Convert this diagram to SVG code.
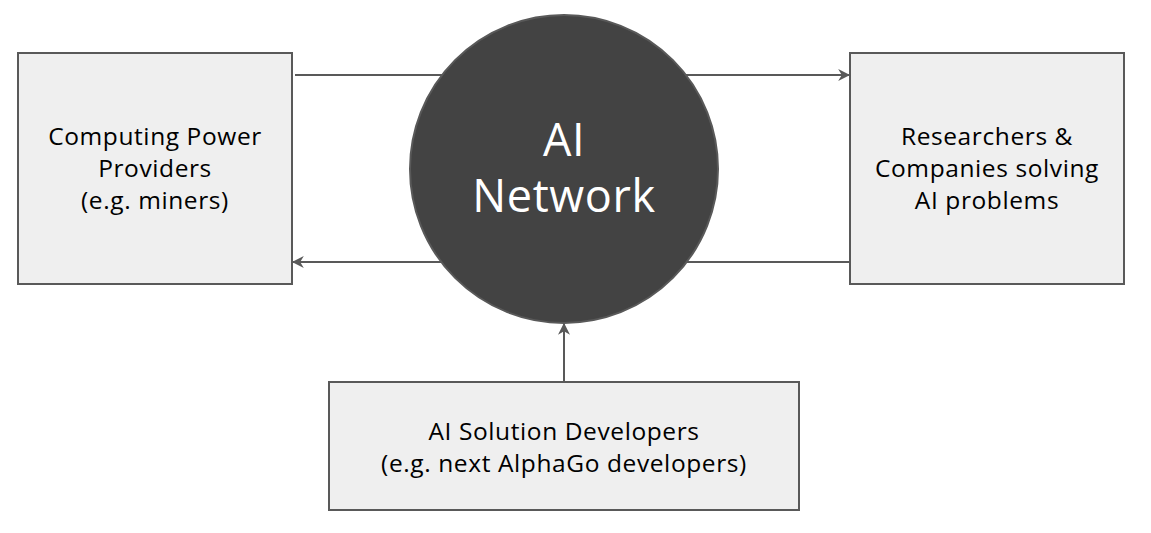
<svg xmlns="http://www.w3.org/2000/svg" width="1151" height="533" viewBox="0 0 1151 533">
<style>
.box{fill:#efefef;stroke:#595959;stroke-width:2}
.lbl{font-family:"Open Sans","Liberation Sans",sans-serif;font-size:24.5px;letter-spacing:0.6px;fill:#000;text-anchor:middle}
.big{font-family:"Open Sans","Liberation Sans",sans-serif;font-size:45px;letter-spacing:0.6px;fill:#fff;text-anchor:middle}
.conn{stroke:#595959;stroke-width:2;fill:none}
</style>
<defs>
<marker id="arr" viewBox="0 0 10 10" refX="9" refY="5" markerWidth="6" markerHeight="6" orient="auto" markerUnits="strokeWidth">
<path d="M0,0 L10,5 L0,10 L3,5 Z" fill="#595959"/>
</marker>
</defs>
<rect width="1151" height="533" fill="#fff"/>
<g id="connectors">
<line class="conn" x1="295" y1="75" x2="849" y2="75" marker-end="url(#arr)"/>
<line class="conn" x1="850" y1="262" x2="293" y2="262" marker-end="url(#arr)"/>
<line class="conn" x1="564" y1="382" x2="564" y2="324" marker-end="url(#arr)"/>
</g>
<g id="left">
<rect class="box" x="18" y="53" width="274" height="231"/>
<text class="lbl" x="155" y="145">Computing Power</text>
<text class="lbl" x="155" y="177">Providers</text>
<text class="lbl" x="155" y="209">(e.g. miners)</text>
</g>
<g id="right">
<rect class="box" x="850" y="53" width="274" height="231"/>
<text class="lbl" x="987" y="145">Researchers &amp;</text>
<text class="lbl" x="987" y="177">Companies solving</text>
<text class="lbl" x="987" y="209">AI problems</text>
</g>
<g id="bottom">
<rect class="box" x="329" y="382" width="470" height="128"/>
<text class="lbl" x="564" y="440">AI Solution Developers</text>
<text class="lbl" x="564" y="472">(e.g. next AlphaGo developers)</text>
</g>
<g id="network">
<circle cx="564" cy="169" r="154" fill="#434343" stroke="#595959" stroke-width="2"/>
<text class="big" x="564" y="156">AI</text>
<text class="big" x="564" y="212">Network</text>
</g>
</svg>
